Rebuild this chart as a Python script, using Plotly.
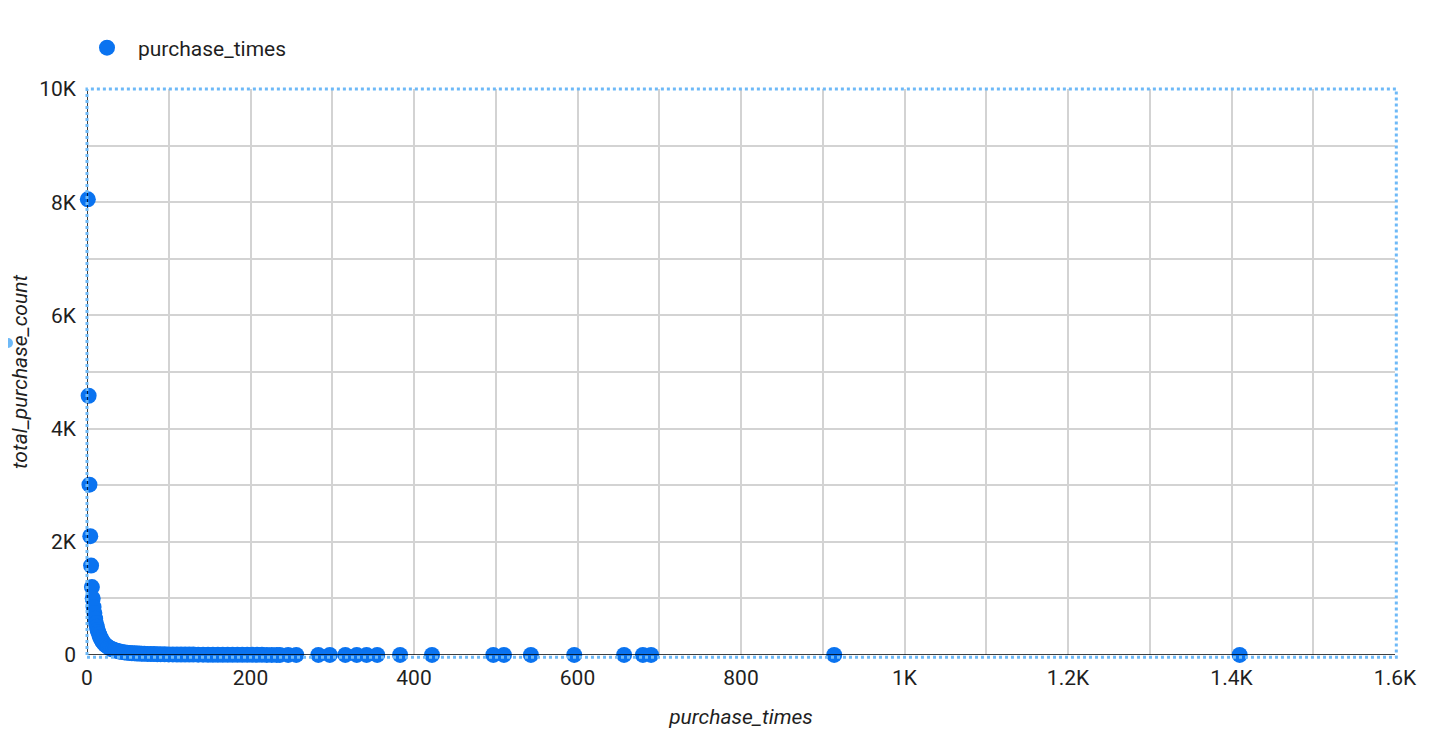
import plotly.graph_objects as go

# ---- data ----
purchase_times = [
    1, 2, 3, 4, 5, 6, 7, 8, 9, 10,
    11, 12, 13, 14, 15, 16, 17, 18, 19, 20,
    22, 24, 26, 28, 30, 32, 34, 36, 38, 40,
    43, 46, 49, 52, 55, 58, 61, 64, 67, 70,
    74, 78, 82, 86, 90, 95, 100, 105, 110, 115,
    120, 125, 130, 136, 142, 148, 154, 160, 166, 172,
    178, 184, 190, 196, 202, 208, 214, 220, 226, 232,
    236, 246, 256, 283, 297, 316, 330, 342, 355, 383,
    422, 497, 510, 543, 596, 657, 680, 690, 914, 1410,
]
total_purchase_count = [
    8050, 4580, 3010, 2100, 1580, 1200, 1000, 850, 740, 640,
    560, 500, 440, 400, 360, 320, 290, 265, 240, 220,
    185, 160, 140, 120, 105, 95, 85, 76, 68, 60,
    52, 46, 41, 37, 33, 30, 27, 25, 23, 21,
    19, 17, 16, 15, 14, 12, 11, 10, 9, 9,
    8, 7, 7, 6, 6, 5, 5, 5, 4, 4,
    4, 4, 3, 3, 3, 3, 3, 2, 2, 2,
    2, 2, 2, 1, 1, 1, 1, 1, 1, 1,
    1, 1, 1, 1, 1, 1, 1, 1, 1, 1,
]
x_tick_vals = [0, 200, 400, 600, 800, 1000, 1200, 1400, 1600]
x_tick_text = ["0", "200", "400", "600", "800", "1K", "1.2K", "1.4K", "1.6K"]
y_tick_vals = [0, 2000, 4000, 6000, 8000, 10000]
y_tick_text = ["0", "2K", "4K", "6K", "8K", "10K"]

BLUE = "#0A73F0"
SEL = "#6EB9F7"
FONT = "Roboto"
TXT = "#1F1F1F"
W, H = 1414, 723

fig = go.Figure()
fig.add_trace(go.Scatter(
    x=purchase_times, y=total_purchase_count,
    mode="markers", name="purchase_times",
    marker=dict(color=BLUE, size=16, line=dict(width=0)),
    cliponaxis=False,
))

fig.update_layout(
    width=W, height=H,
    margin=dict(l=79, r=27, t=81, b=76, autoexpand=False),
    paper_bgcolor="white", plot_bgcolor="white",
    font=dict(family=FONT, size=21, color=TXT),
    showlegend=True,
    legend=dict(orientation="h", xref="container", yref="container",
                x=68 / W, xanchor="left", y=1 - 40 / H, yanchor="middle",
                font=dict(family=FONT, size=21, color=TXT),
                itemsizing="trace", itemwidth=52),
    xaxis=dict(
        range=[0, 1600], tickvals=x_tick_vals, ticktext=x_tick_text,
        showgrid=True, gridcolor="#D3D3D3", gridwidth=2,
        minor=dict(dtick=100, tick0=0, showgrid=True, gridcolor="#D3D3D3", gridwidth=2),
        zeroline=False, showline=False, ticks="", automargin=False,
        ticklabelstandoff=8,
        tickfont=dict(family=FONT, size=21, color=TXT),
        title=dict(text="<i>purchase_times</i>", standoff=20,
                   font=dict(family=FONT, size=21, color=TXT)),
    ),
    yaxis=dict(
        range=[0, 10000], tickvals=y_tick_vals, ticktext=y_tick_text,
        showgrid=True, gridcolor="#D3D3D3", gridwidth=2,
        minor=dict(dtick=1000, tick0=0, showgrid=True, gridcolor="#D3D3D3", gridwidth=2),
        zeroline=False, showline=False, ticks="", automargin=False,
        ticklabelstandoff=10,
        tickfont=dict(family=FONT, size=21, color=TXT),
        title=dict(text="<i>total_purchase_count</i>", standoff=6,
                   font=dict(family=FONT, size=21, color=TXT)),
    ),
)

# black axis lines at x=0 and y=0
fig.add_shape(type="line", xref="x", yref="y", x0=0, x1=1600, y0=0, y1=0,
              line=dict(color="black", width=1.5), layer="above")
fig.add_shape(type="line", xref="x", yref="y", x0=0, x1=0, y0=0, y1=10000,
              line=dict(color="black", width=1.5), layer="above")
# dotted selection outline round the plot area
fig.add_shape(type="rect", xref="paper", yref="paper", x0=0, x1=1.001, y0=-0.004, y1=1,
              line=dict(color=SEL, width=3, dash="dot"), layer="above")
# selection handle on the left edge of the page
fig.add_shape(type="circle", xref="paper", yref="paper", xsizemode="pixel", ysizemode="pixel",
              xanchor=-79 / 1308, yanchor=(655 - 343) / 566, x0=-5, x1=5, y0=-5, y1=5,
              fillcolor=SEL, line=dict(width=0), layer="above")

fig.write_html("out.html")
